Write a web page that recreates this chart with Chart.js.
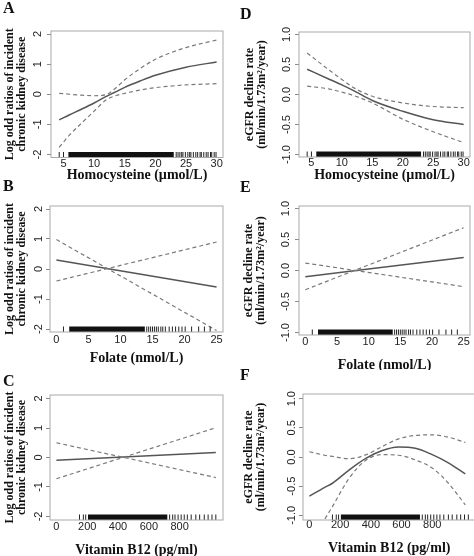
<!DOCTYPE html>
<html>
<head>
<meta charset="utf-8">
<script src="https://cdn.jsdelivr.net/npm/chart.js@4.4.1/dist/chart.umd.min.js"></script>
<style>
  html, body { margin: 0; padding: 0; background: #fff; overflow: hidden; }
  #fig { position: relative; width: 474px; height: 556px; overflow: hidden; }
  #fig canvas { position: absolute; }
  .tag { position: absolute; font: bold 16px 'Liberation Serif', 'Times New Roman', serif; line-height: 16px; color: #111; }
</style>
</head>
<body>
<div id="fig"></div>
<script>
// tick values
const hcyTicks = [5, 10, 15, 20, 25, 30];
const folTicks = [0, 5, 10, 15, 20, 25];
const b12Ticks = [0, 200, 400, 600, 800];
const orTicks = [-2, -1, 0, 1, 2];
const egfrTicks = [-1, -0.5, 0, 0.5, 1];

const orTitle = ['Log odd ratios of incident', 'chronic kidney disease'];
const egfrTitle = ['eGFR decline rate', '(ml/min/1.73m²/year)'];

// A: homocysteine vs log OR
const aX = [4.3, 6, 8, 10, 12, 13.5, 15, 17.5, 20, 25, 30];
const aFit = [-0.85, -0.68, -0.49, -0.29, -0.07, 0.08, 0.23, 0.44, 0.63, 0.9, 1.07];
const aCi1 = [0.03, 0.0, -0.03, -0.05, -0.01, 0.2, 0.48, 0.85, 1.16, 1.55, 1.8];
const aCi2 = [-1.76, -1.35, -0.95, -0.56, -0.18, -0.05, 0.03, 0.14, 0.22, 0.31, 0.35];

// D: homocysteine vs eGFR decline
const dX = [4.3, 8, 10, 12, 15, 20, 25, 30];
const dFit = [0.42, 0.25, 0.16, 0.06, -0.1, -0.28, -0.42, -0.5];
const dCi1 = [0.69, 0.40, 0.25, 0.11, -0.03, -0.14, -0.2, -0.22];
const dCi2 = [0.14, 0.09, 0.04, -0.02, -0.14, -0.41, -0.62, -0.8];

// B: folate vs log OR
const bX = [0, 25];
const bFit = [0.3, -0.6];
const bCi1 = [0.98, -2.05];
const bCi2 = [-0.4, 0.9];

// E: folate vs eGFR decline
const eX = [0, 25];
const eFit = [-0.1, 0.21];
const eCi1 = [0.12, -0.26];
const eCi2 = [-0.31, 0.69];

// C: vitamin B12 vs log OR
const cX = [0, 1035];
const cFit = [-0.09, 0.17];
const cCi1 = [0.5, -0.68];
const cCi2 = [-0.72, 1.01];

// F: vitamin B12 vs eGFR decline
const fX = [0, 100, 150, 260, 370, 475, 580, 690, 800, 905, 1015];
const fFit = [-0.67, -0.52, -0.45, -0.22, -0.02, 0.11, 0.17, 0.15, 0.04, -0.1, -0.29];
const fCi1 = [0.09, 0.03, 0.01, -0.03, 0.04, 0.18, 0.31, 0.37, 0.38, 0.34, 0.25];
const fCi2 = [-1.6, -1.07, -0.85, -0.36, -0.05, 0.04, 0.03, -0.05, -0.19, -0.45, -0.82];

// rug marks (observations), dense stretch given as [from, to]
const hcyRugDense = [5.8, 23.0];
const hcyRug = [4.3, 5.0, 23.4, 23.7, 24.0, 24.3, 24.5, 24.9, 25.3, 25.6, 25.8, 26.2, 26.6, 26.9,
  27.3, 27.5, 27.9, 28.3, 28.6, 29.0, 29.2, 29.6, 29.9];
const folRugDense = [2.0, 13.8];
const folRug = [1.1, 14.1, 14.4, 14.7, 15.0, 15.3, 15.6, 15.9, 16.3, 16.6, 17.0, 17.6, 18.1,
  18.6, 19.1, 19.6, 20.1, 21.1, 22.2, 23.1, 24.0];
const b12RugDense = [205, 720];
const b12Rug = [150, 175, 190, 735, 755, 770, 790, 810, 830, 850, 875, 905, 930, 960, 985, 1010, 1035];

const SANS = "'Liberation Sans', Arial, sans-serif";
const SERIF = "'Liberation Serif', 'Times New Roman', serif";

// page layout of each panel: cell, plot box [l, t, r, b], label anchors
const panels = [
  { tag: 'A', tagPos: [3, 0], cell: [0, 0, 237, 185], box: [51, 31, 223, 157.5],
    yTickX: 38, xTickY: 163.5, xTitleY: 175, yTitleX: 10,
    x: aX, fit: aFit, ci1: aCi1, ci2: aCi2, dense: hcyRugDense, rug: hcyRug,
    xTicks: hcyTicks, xMin: 2.96, xMax: 31.04, yTicks: orTicks, yMin: -2.1, yMax: 2.1, dp: 0,
    xTitle: 'Homocysteine (µmol/L)', yTitle: orTitle },
  { tag: 'B', tagPos: [3, 178], cell: [0, 185, 237, 185], box: [50, 206, 223, 332],
    yTickX: 39, xTickY: 339.5, xTitleY: 358, yTitleX: 10,
    x: bX, fit: bFit, ci1: bCi1, ci2: bCi2, dense: folRugDense, rug: folRug,
    xTicks: folTicks, xMin: -1, xMax: 26, yTicks: orTicks, yMin: -2.1, yMax: 2.1, dp: 0,
    xTitle: 'Folate (nmol/L)', yTitle: orTitle },
  { tag: 'C', tagPos: [3, 373], cell: [0, 370, 237, 186], box: [50, 395, 223, 520],
    yTickX: 39, xTickY: 527, xTitleY: 550, yTitleX: 10,
    x: cX, fit: cFit, ci1: cCi1, ci2: cCi2, dense: b12RugDense, rug: b12Rug,
    xTicks: b12Ticks, xMin: -41.6, xMax: 1081.6, yTicks: orTicks, yMin: -2.12, yMax: 2.12, dp: 0,
    xTitle: 'Vitamin B12 (pg/ml)', yTitle: orTitle },
  { tag: 'D', tagPos: [240, 6], cell: [237, 0, 245, 185], box: [299, 32, 470, 157],
    yTickX: 287, xTickY: 163, xTitleY: 175, yTitleX: 250,
    x: dX, fit: dFit, ci1: dCi1, ci2: dCi2, dense: hcyRugDense, rug: hcyRug,
    xTicks: hcyTicks, xMin: 2.96, xMax: 31.04, yTicks: egfrTicks, yMin: -1.04, yMax: 1.04, dp: 1,
    xTitle: 'Homocysteine (µmol/L)', yTitle: egfrTitle },
  { tag: 'E', tagPos: [240, 179], cell: [237, 185, 245, 185], box: [299, 206, 470, 335],
    yTickX: 286, xTickY: 342, xTitleY: 365, yTitleX: 249,
    x: eX, fit: eFit, ci1: eCi1, ci2: eCi2, dense: folRugDense, rug: folRug,
    xTicks: folTicks, xMin: -1, xMax: 26, yTicks: egfrTicks, yMin: -1.04, yMax: 1.04, dp: 1,
    xTitle: 'Folate (nmol/L)', yTitle: egfrTitle },
  { tag: 'F', tagPos: [240, 367], cell: [237, 370, 245, 186], box: [303, 394, 477, 520],
    yTickX: 292, xTickY: 525, xTitleY: 548, yTitleX: 249,
    x: fX, fit: fFit, ci1: fCi1, ci2: fCi2, dense: b12RugDense, rug: b12Rug,
    xTicks: b12Ticks, xMin: -41.6, xMax: 1081.6, yTicks: egfrTicks, yMin: -1.08, yMax: 1.08, dp: 1,
    xTitle: 'Vitamin B12 (pg/ml)', yTitle: egfrTitle }
];

const fig = document.getElementById('fig');
const measureCtx = document.createElement('canvas').getContext('2d');

// grey frame round the plotting region, like R's box()
const boxPlugin = {
  id: 'box',
  afterDatasetsDraw(chart) {
    const a = chart.chartArea, ctx = chart.ctx;
    ctx.save();
    ctx.strokeStyle = '#a9a9a9';
    ctx.lineWidth = 1;
    ctx.strokeRect(a.left, a.top, a.right - a.left, a.bottom - a.top);
    ctx.restore();
  }
};

const pts = (xs, ys) => xs.map((x, i) => ({ x: x, y: ys[i] }));

panels.forEach(p => {
  const [cl, ct, cw, ch] = p.cell;
  const [L, T, R, B] = p.box;

  const canvas = document.createElement('canvas');
  canvas.width = cw;
  canvas.height = ch;
  canvas.style.left = cl + 'px';
  canvas.style.top = ct + 'px';
  fig.appendChild(canvas);

  const tag = document.createElement('div');
  tag.className = 'tag';
  tag.textContent = p.tag;
  tag.style.left = p.tagPos[0] + 'px';
  tag.style.top = p.tagPos[1] + 'px';
  fig.appendChild(tag);

  const yLabels = p.yTicks.map(v => v.toFixed(p.dp));
  measureCtx.font = '11px ' + SANS;
  const widest = Math.max(...yLabels.map(t => measureCtx.measureText(t).width));
  const tickLen = 4;

  const yScaleW = L - cl;
  const xScaleH = ct + ch - B;
  const yTickPad = (L - p.yTickX) - tickLen - widest / 2;
  const xTickPad = p.xTickY - B - 11 * 1.2 / 2;
  const xTitlePad = (ct + ch) - p.xTitleY - 14 * 1.2 / 2;
  const yTitlePad = p.yTitleX - cl - 12 / 2;
  const yBottom = p.yMin;

  new Chart(canvas, {
    type: 'line',
    data: {
      datasets: [
        { data: pts(p.dense, p.dense.map(() => yBottom)), borderColor: '#111', borderWidth: 11,
          pointRadius: 0, clip: 0 },
        { data: pts(p.rug, p.rug.map(() => yBottom)), showLine: false, pointStyle: 'line',
          pointRotation: 90, pointRadius: 5.5, pointBorderWidth: 1, pointBorderColor: '#222', clip: 0 },
        { data: pts(p.x, p.ci1), borderColor: '#7a7a7a', borderWidth: 1.2, borderDash: [4, 3],
          pointRadius: 0, cubicInterpolationMode: 'monotone', clip: 0 },
        { data: pts(p.x, p.ci2), borderColor: '#7a7a7a', borderWidth: 1.2, borderDash: [4, 3],
          pointRadius: 0, cubicInterpolationMode: 'monotone', clip: 0 },
        { data: pts(p.x, p.fit), borderColor: '#555', borderWidth: 1.5,
          pointRadius: 0, cubicInterpolationMode: 'monotone', clip: 0 }
      ]
    },
    options: {
      responsive: false,
      animation: false,
      events: [],
      layout: { padding: { top: T - ct, right: cl + cw - R, left: 0, bottom: 0 } },
      plugins: { legend: { display: false }, tooltip: { enabled: false } },
      scales: {
        x: {
          type: 'linear',
          min: p.xMin,
          max: p.xMax,
          afterBuildTicks: s => { s.ticks = p.xTicks.map(v => ({ value: v })); },
          afterFit: s => { s.height = xScaleH; },
          grid: { display: false, drawTicks: false },
          border: { display: false },
          ticks: { autoSkip: false, maxRotation: 0, padding: xTickPad, color: '#222',
            font: { family: SANS, size: 11 }, callback: v => String(v) },
          title: { display: true, text: p.xTitle, color: '#111',
            padding: { top: 0, bottom: xTitlePad },
            font: { family: SERIF, size: 14, weight: 'bold' } }
        },
        y: {
          min: p.yMin,
          max: p.yMax,
          afterBuildTicks: s => { s.ticks = p.yTicks.map(v => ({ value: v })); },
          afterFit: s => { s.width = yScaleW; },
          grid: { drawOnChartArea: false, drawTicks: true, tickLength: tickLen, color: '#8a8a8a' },
          border: { display: false },
          ticks: { autoSkip: false, minRotation: 90, maxRotation: 90, crossAlign: 'center',
            padding: yTickPad, color: '#222', font: { family: SANS, size: 11 },
            callback: v => v.toFixed(p.dp) },
          title: { display: true, text: p.yTitle, color: '#111',
            padding: { top: yTitlePad, bottom: 0 },
            font: { family: SERIF, size: 12, weight: 'bold', lineHeight: 1.0 } }
        }
      }
    },
    plugins: [boxPlugin]
  });
});
</script>
</body>
</html>
